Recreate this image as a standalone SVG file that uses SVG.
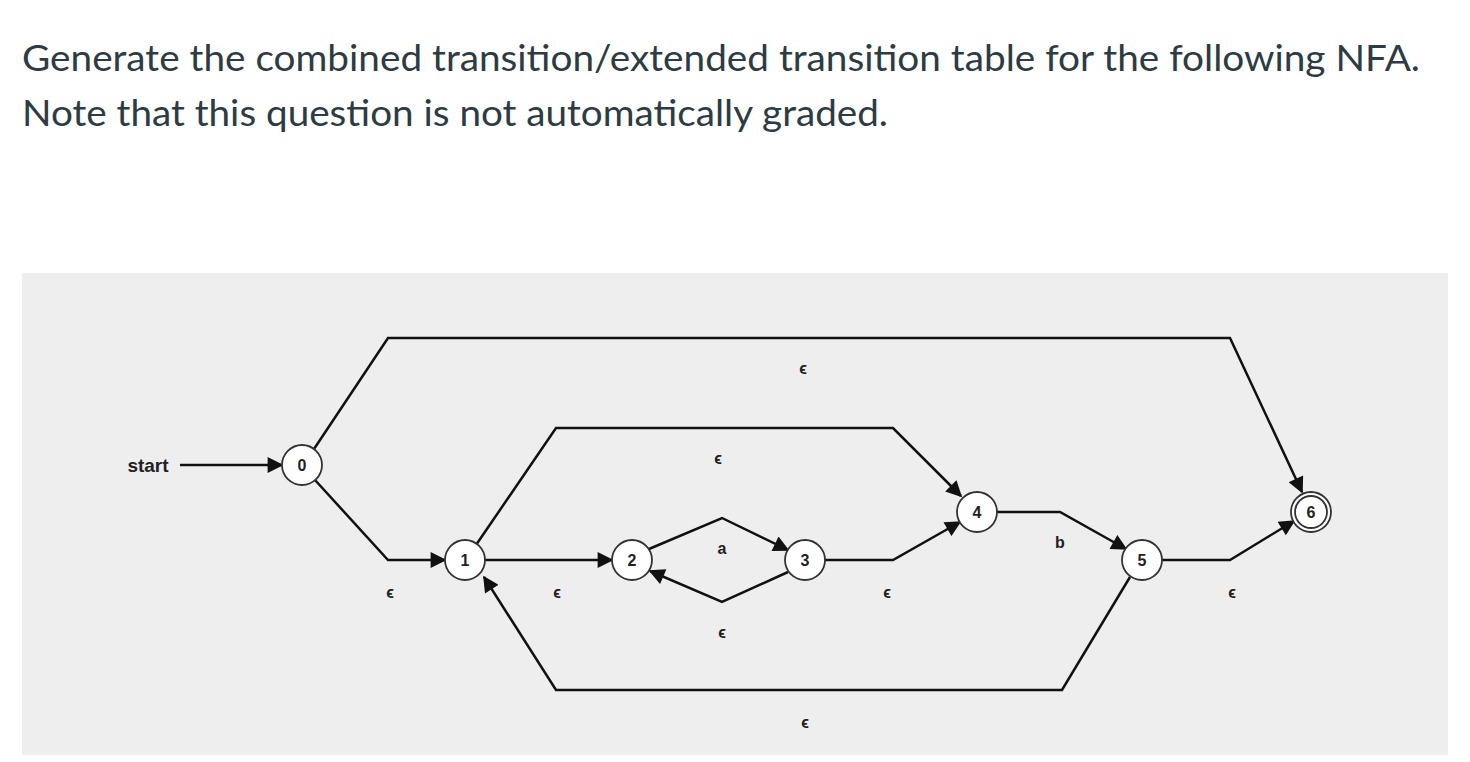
<svg xmlns="http://www.w3.org/2000/svg" width="1470" height="762" viewBox="0 0 1470 762">
<defs>
<style>
.q{font-family:Lato,"Liberation Sans",sans-serif;font-size:37px;fill:#2d3b45}
.n{fill:#fff;stroke:#333;stroke-width:1.8}
.t{font-family:"Liberation Sans",Arial,sans-serif;font-size:16px;font-weight:bold;fill:#222;text-anchor:middle;dominant-baseline:central}
.e{stroke:#111;stroke-width:2.5;fill:none;marker-end:url(#a)}
</style>
<marker id="a" viewBox="0 0 10 10" refX="9" refY="5" markerWidth="18" markerHeight="16" markerUnits="userSpaceOnUse" orient="auto"><path d="M0,0L10,5L0,10z" fill="#111"/></marker>
</defs>
<rect width="1470" height="762" fill="#fff"/>
<text class="q" x="22" y="71" textLength="1398" lengthAdjust="spacingAndGlyphs">Generate the combined transition/extended transition table for the following NFA.</text>
<text class="q" x="22" y="126" textLength="866" lengthAdjust="spacingAndGlyphs">Note that this question is not automatically graded.</text>
<rect x="22" y="273" width="1426" height="482" fill="#eeeeee"/>
<g id="edges">
<path class="e" d="M180,465H282"/>
<path class="e" d="M314,449L388,338H1230L1302,492"/>
<path class="e" d="M315,480L388,560H445"/>
<path class="e" d="M476,545L556,428H893L961,496"/>
<path class="e" d="M485,560H612"/>
<path class="e" d="M649,549L722,518L788,550"/>
<path class="e" d="M788,572L722,602L650,571"/>
<path class="e" d="M824,560H893L960,522"/>
<path class="e" d="M996,512H1060L1126,549"/>
<path class="e" d="M1161,560H1230L1294,521"/>
<path class="e" d="M1130,577L1062,690H556L484,577"/>
</g>
<g id="labels">
<text class="t" x="148" y="465" style="font-size:19px">start</text>
<text class="t" x="803" y="368">ϵ</text>
<text class="t" x="718" y="458">ϵ</text>
<text class="t" x="390" y="592">ϵ</text>
<text class="t" x="557" y="592">ϵ</text>
<text class="t" x="722" y="548">a</text>
<text class="t" x="722" y="632">ϵ</text>
<text class="t" x="887" y="592">ϵ</text>
<text class="t" x="1060" y="542">b</text>
<text class="t" x="1232" y="592">ϵ</text>
<text class="t" x="805" y="722">ϵ</text>
</g>
<g id="n0"><circle class="n" cx="302" cy="465" r="20"/><text class="t" x="302" y="465">0</text></g>
<g id="n1"><circle class="n" cx="465" cy="560" r="20"/><text class="t" x="465" y="560">1</text></g>
<g id="n2"><circle class="n" cx="632" cy="560" r="20"/><text class="t" x="632" y="560">2</text></g>
<g id="n3"><circle class="n" cx="805" cy="560" r="20"/><text class="t" x="805" y="560">3</text></g>
<g id="n4"><circle class="n" cx="977" cy="512" r="20"/><text class="t" x="977" y="512">4</text></g>
<g id="n5"><circle class="n" cx="1142" cy="560" r="20"/><text class="t" x="1142" y="560">5</text></g>
<g id="n6"><circle class="n" cx="1311" cy="512" r="20"/><circle class="n" cx="1311" cy="512" r="16"/><text class="t" x="1311" y="512">6</text></g>
</svg>
